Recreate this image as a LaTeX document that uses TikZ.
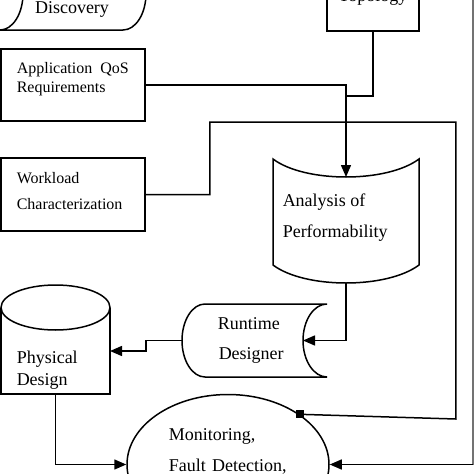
\documentclass[tikz,border=0pt]{standalone}
\usepackage{fontspec}
\setmainfont{Liberation Serif}
\usetikzlibrary{arrows.meta,shapes.geometric}
\begin{document}
\begin{tikzpicture}[x=1pt,y=-1pt,line width=1.5pt,
  tip/.style={-{Triangle[length=12pt,width=10pt]}},
  big/.style={font=\fontsize{18}{20}\selectfont, inner sep=0pt, anchor=base west},
  small/.style={font=\fontsize{16}{18}\selectfont, inner sep=0pt, anchor=base west},
  boxnode/.style={draw, line width=1.5pt, inner sep=0pt}]
\useasboundingbox (0,0) rectangle (474,474);
\clip (0,0) rectangle (474,474);

% Discovery (stored-data like shape, mirrored)
\draw (0,30) -- (123,30) .. controls (135.7,30) and (146,13.7) .. (146,-6.5)
  .. controls (146,-26.7) and (135.7,-43) .. (123,-43) -- (0,-43)
  .. controls (12.7,-43) and (23,-26.7) .. (23,-6.5)
  .. controls (23,13.7) and (12.7,30) .. (0,30) -- cycle;
\node[big, anchor=base] (disc) at (72,13) {Discovery};

% Topology box
\node[boxnode, minimum width=92pt, minimum height=71pt] (topo) at (373,-4.5) {};
\node[big, anchor=base] (topot) at (373,1) {Topology};

% Application QoS box
\node[boxnode, minimum width=144pt, minimum height=72pt] (app) at (73,85) {};
\node[small] (app1) at (16,73) {Application\hspace{0.5em}QoS};
\node[small] (app2) at (16,92) {Requirements};

% Workload box
\node[boxnode, minimum width=144pt, minimum height=73pt] (work) at (73,194.5) {};
\node[small] (work1) at (16,183) {Workload};
\node[small] (work2) at (16,209) {Characterization};

% Analysis of Performability
\draw (273,159) .. controls (305,183) and (387,183) .. (419,159) -- (419,265)
  .. controls (387,289) and (305,289) .. (273,265) -- cycle;
\coordinate (perfN) at (346,177);
\coordinate (perfS) at (346,283);
\node[big] (perf1) at (282,206) {Analysis of};
\node[big] (perf2) at (282,237) {Performability};

% Runtime Designer
\draw (205,304) .. controls (192.3,304) and (182,320.3) .. (182,340.5)
  .. controls (182,360.7) and (192.3,377) .. (205,377) -- (327,377)
  .. controls (313.8,377) and (303,360.7) .. (303,340.5)
  .. controls (303,320.3) and (313.8,304) .. (327,304) -- cycle;
\coordinate (rtE) at (303,340.5);
\coordinate (rtW) at (182,340.5);
\node[big] (rt1) at (217,329) {Runtime};
\node[big] (rt2) at (218,359) {Designer};

% Physical Design cylinder
\draw (1,307.5) -- (1,394) -- (110,394) -- (110,307.5);
\draw (55.5,307.5) ellipse [x radius=54.5, y radius=22.5];
\coordinate (physE) at (110,351);
\coordinate (physS) at (55.5,394);
\node[big] (phys1) at (16,363) {Physical};
\node[big] (phys2) at (16,385) {Design};

% Monitoring ellipse
\node[draw, ellipse, minimum width=202pt, minimum height=140pt, inner sep=0pt] (mon) at (228,464.5) {};
\node[big] (mon1) at (168,440) {Monitoring,};
\node[big] (mon2) at (168,471) {Fault\hspace{0.35em}Detection,};
\node[fill, minimum size=8pt, inner sep=0pt] (sq) at (mon.35) {};

% connectors
\draw[tip] (app.east) -| (perfN);
\draw (topo.south) -- ++(0,64) -- ++(-27,0);
\draw (work.east) -- ++(64,0) |- ++(246,-72.5) -- ++(0,297) -- (sq.center);
\draw[tip] (perfS) |- (rtE);
\draw[tip] (rtW) -- ++(-36,0) |- (physE);
\draw[tip] (physS) |- (mon.west);
\coordinate (rTop) at (473,-5);
\coordinate (rCorner) at (473,464.5);
\draw[black!55] (rTop) -- (rCorner);
\draw[tip] (rCorner) -- (mon.east);
\end{tikzpicture}
\end{document}
